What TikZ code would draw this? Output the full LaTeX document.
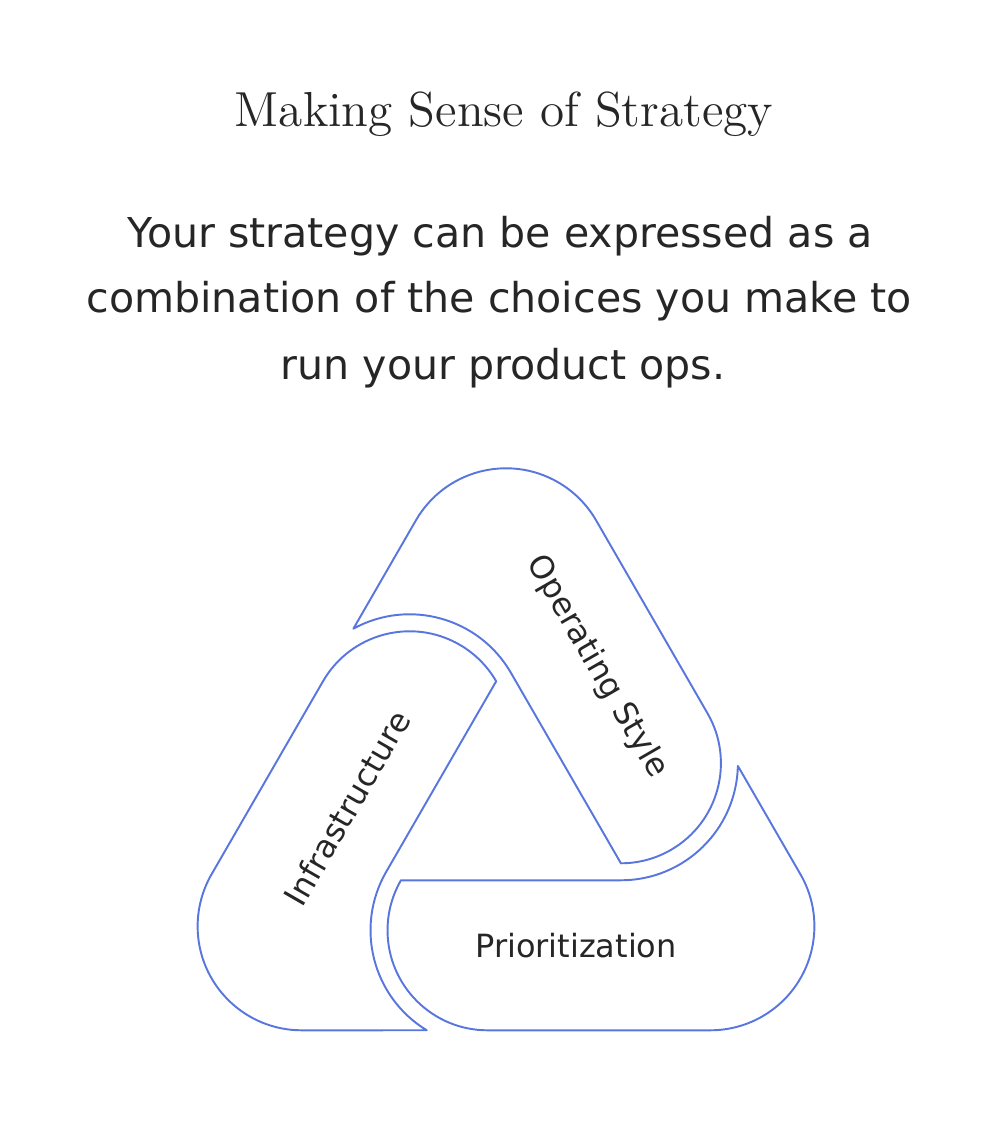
\documentclass[tikz,border=0pt]{standalone}
\usepackage{fontspec}
\setsansfont{DejaVu Sans}
\definecolor{ribbon}{HTML}{5876DE}
\definecolor{ink}{HTML}{262626}
% one arm of the triangle, centred on the middle of the figure
\newcommand{\armshape}{(-90.07,288) arc[start angle=150,end angle=30,radius=104]
  -- (201.5,95) arc[start angle=30,end angle=-90,radius=100]
  -- (4.9,135.5) arc[start angle=30,end angle=118.7,radius=117] -- cycle}
\begin{document}
\begin{tikzpicture}[x=0.1mm,y=0.1mm,line join=round,
    arm/.style={draw=ribbon,line width=0.55pt,fill=white},
    armtext/.style={text=ink,font=\sffamily\fontsize{9.1pt}{11pt}\selectfont,inner sep=0pt},
    bodytext/.style={text=ink,font=\sffamily\fontsize{11.7pt}{14pt}\selectfont,anchor=base,inner sep=0pt}]
	\useasboundingbox (0,0) rectangle (1000,1122);
	\node[text=ink,font=\fontsize{14pt}{16pt}\selectfont,anchor=base,inner sep=0pt] (title) at (504,995) {Making Sense of Strategy};
	\node[bodytext] (body1) at (500,874) {Your strategy can be expressed as a};
	\node[bodytext] (body2) at (499,809) {combination of the choices you make to};
	\node[bodytext] (body3) at (503,742) {run your product ops.};
	\foreach \turn in {0,120,240}
		\draw[arm,shift={(506,313.7)},rotate=\turn] \armshape;
	\node[armtext,rotate=-60] (style) at (597,455) {Operating Style};
	\node[armtext,rotate=60] (infra) at (347,314) {Infrastructure};
	\node[armtext] (prior) at (576,176) {Prioritization};
\end{tikzpicture}
\end{document}
